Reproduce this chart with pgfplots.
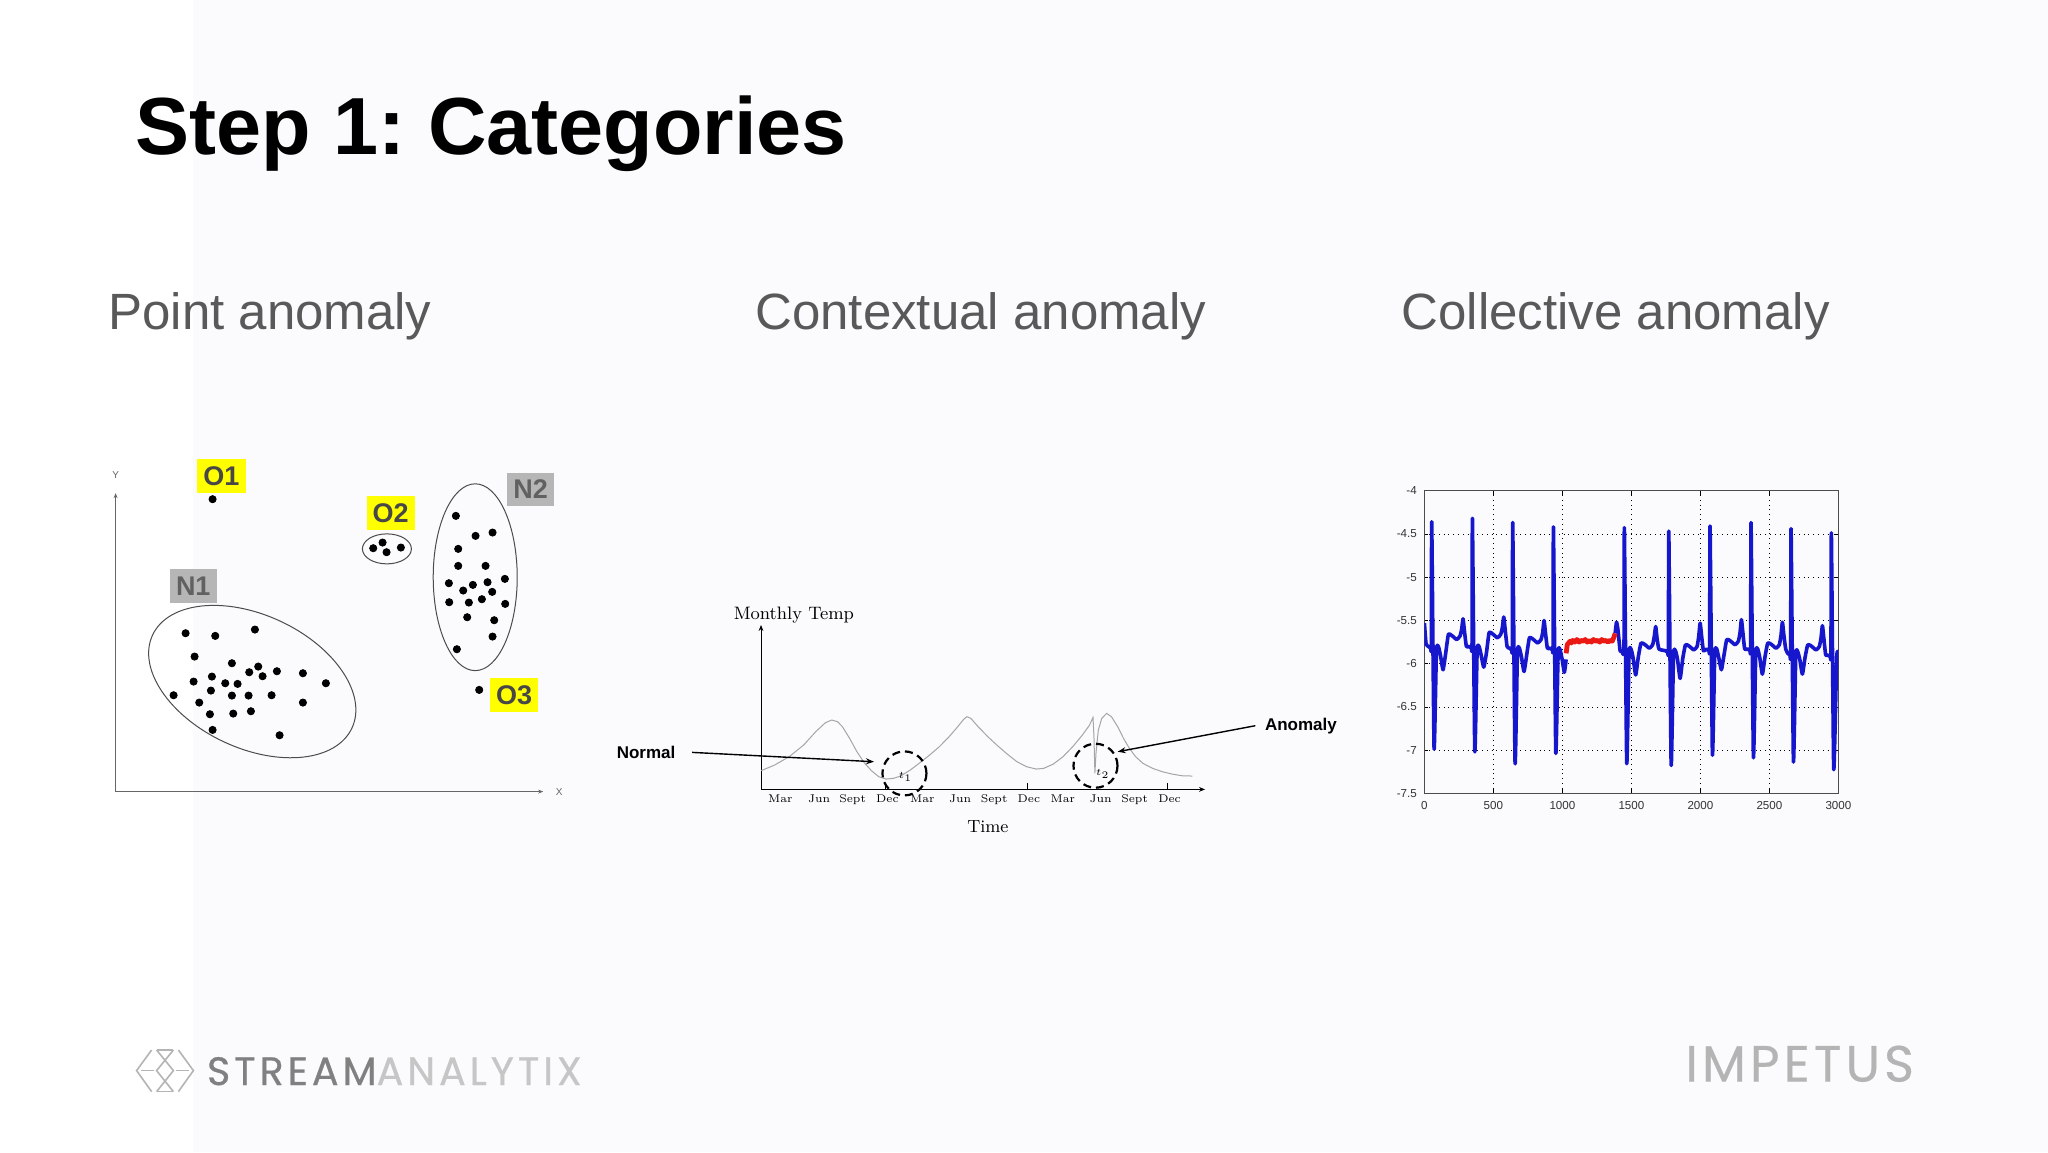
\documentclass[border=0pt]{standalone}
\usepackage{fontspec}
\usepackage{pgfplots}
\pgfplotsset{compat=1.18}
\usetikzlibrary{arrows.meta}
\newfontfamily\arial{Liberation Sans}
\newfontfamily\poppA{Poppins}[LetterSpace=10, FakeBold=0.6]
\newfontfamily\poppB{Poppins}[LetterSpace=8, FakeBold=0.4]
\definecolor{bg}{RGB}{251,250,252}
\definecolor{subgray}{RGB}{89,89,89}
\definecolor{ylw}{RGB}{255,255,0}
\definecolor{lblgray}{RGB}{182,182,182}
\definecolor{ecgblue}{RGB}{22,22,205}
\definecolor{ecgred}{RGB}{235,25,20}
\definecolor{curvegray}{RGB}{165,165,165}
\definecolor{logoA}{RGB}{128,128,128}
\definecolor{logoB}{RGB}{198,198,198}
\definecolor{logoC}{RGB}{180,180,180}
\begin{document}
\frenchspacing
\begin{tikzpicture}[x=1pt,y=1pt]
\fill[bg] (0,0) rectangle (1024,576);
\fill[white] (0,0) rectangle (96.5,576);
% title and subtitles
\node[anchor=base west,inner sep=0] at (67.7,498.5) {\arial\bfseries\fontsize{40.5}{48}\selectfont Step 1: Categories};
\node[anchor=base west,inner sep=0,text=subgray] at (54,411.35) {\arial\fontsize{25.5}{30}\selectfont Point anomaly};
\node[anchor=base west,inner sep=0,text=subgray] at (377.5,411.35) {\arial\fontsize{25.5}{30}\selectfont Contextual anomaly};
\node[anchor=base west,inner sep=0,text=subgray] at (700.6,411.35) {\arial\fontsize{25.5}{30}\selectfont Collective anomaly};

% ---------------- Panel 1: point anomaly ----------------
\begin{axis}[at={(57.8pt,180.2pt)}, anchor=south west, scale only axis,
  width=213.8pt, height=149.2pt, xmin=0, xmax=128.3, ymin=0, ymax=89.5,
  axis lines=left, xtick=\empty, ytick=\empty, clip=false,
  axis line style={draw=black!60, line width=0.5pt, -{Stealth[length=2.5pt,width=2pt]}}]
\addplot[only marks, mark=*, mark size=1.8pt, black] coordinates {
(29.1,87.7)
(77.3,73.0)(80.1,74.7)(81.3,71.8)(85.6,73.2)
(102.1,82.7)(108.0,76.7)(113.1,77.7)(102.8,72.8)(102.8,67.7)(111.0,67.7)
(100.0,62.5)(107.2,62.0)(111.6,62.8)(116.8,63.8)(104.3,60.3)(113.0,59.9)
(100.1,56.8)(106.0,56.7)(109.9,57.7)(116.9,56.3)(105.5,52.3)(113.6,51.4)
(113.1,46.5)(102.4,42.7)
(109.1,30.5)
(21.0,47.5)(29.9,46.7)(41.8,48.6)(23.7,40.5)(34.9,38.5)(42.8,37.5)
(40.1,35.8)(44.1,34.6)(48.4,36.1)(56.2,35.5)(23.4,33.0)(28.9,34.5)
(32.9,32.5)(36.6,32.3)(63.1,32.5)(28.6,30.3)(17.4,28.9)(34.9,28.8)
(39.9,28.8)(46.8,28.9)(25.1,26.7)(56.2,26.7)(28.3,23.2)(35.3,23.4)
(40.6,24.1)(29.1,18.5)(49.2,16.9)
};
\draw[black!70, line width=0.5pt] (axis cs:41,33) ellipse [x radius=55pt, y radius=33.3pt, rotate=-25];
\draw[black!70, line width=0.5pt] (axis cs:107.9,64.3) ellipse [x radius=21pt, y radius=46.7pt];
\draw[black!70, line width=0.5pt] (axis cs:81.4,72.8) ellipse [x radius=12.25pt, y radius=7.5pt];
\tikzset{lbl/.style={minimum width=24.2pt, minimum height=16.7pt, inner sep=0pt,
  font=\arial\bfseries\fontsize{13.5}{14}\selectfont}}
\node[lbl, fill=ylw, text=black!72] at (axis cs:31.75,94.7) {O1};
\node[lbl, fill=ylw, text=black!72] at (axis cs:82.55,83.6) {O2};
\node[lbl, fill=ylw, text=black!72] at (axis cs:119.55,29.0) {O3};
\node[lbl, fill=lblgray, text=black!62, minimum width=23.3pt] at (axis cs:23.3,61.7) {N1};
\node[lbl, fill=lblgray, text=black!62, minimum width=23.3pt] at (axis cs:124.5,90.6) {N2};
\node[font=\arial\fontsize{5}{6}\selectfont, text=black!60] at (axis cs:0,95) {Y};
\node[font=\arial\fontsize{5}{6}\selectfont, text=black!60] at (axis cs:133.1,0) {X};
\end{axis}

% ---------------- Panel 2: contextual anomaly ----------------
\begin{axis}[at={(380.5pt,181.3pt)}, anchor=south west, scale only axis,
  width=222pt, height=82.2pt, xmin=1.5, xmax=39.08, ymin=0, ymax=49.3,
  axis lines=left, clip=false, ytick=\empty,
  xtick={3.14,6.42,9.25,12.2,15.16,18.36,21.23,24.18,27.05,30.25,33.12,36.08},
  xticklabels={Mar,Jun,Sept,Dec,Mar,Jun,Sept,Dec,Mar,Jun,Sept,Dec},
  major tick length=0pt,
  xticklabel style={font=\fontsize{5.6}{6}\selectfont, anchor=north, inner sep=0pt, yshift=-2.3pt},
  axis line style={black, line width=0.5pt, -{Stealth[length=3pt,width=2.4pt]}}]
\addplot[curvegray, line width=0.5pt] coordinates {
(1.50,5.6)(2.65,7.3)(3.88,9.8)(5.11,13.3)(6.13,17.3)(6.95,20.0)(7.49,20.8)
(7.98,20.3)(8.39,18.8)(9.0,15.3)(9.62,11.3)(10.24,8.0)(10.85,5.6)(11.47,3.8)
(12.08,3.1)(12.70,3.3)(13.31,4.0)(14.13,5.8)(14.95,8.0)(15.77,10.3)(16.59,12.8)
(17.42,15.8)(18.03,18.3)(18.65,21.0)(18.93,21.8)(19.26,21.3)(19.88,18.8)
(20.70,15.8)(21.52,13.1)(22.34,10.6)(23.16,8.3)(23.98,6.8)(24.80,6.1)
(25.42,6.3)(26.24,7.6)(27.06,9.8)(27.88,12.8)(28.70,16.3)(29.31,19.3)
(29.60,21.6)(29.68,15.8)(29.76,4.8)(29.85,10.8)(30.05,17.8)(30.34,21.3)
(30.75,22.8)(31.16,21.8)(31.69,18.8)(32.18,15.3)(32.68,12.3)(33.21,9.8)
(33.83,7.8)(34.65,6.3)(35.47,5.3)(36.29,4.6)(37.11,4.1)(38.01,4.0)
};
\draw[black, line width=0.4pt] (axis cs:12,0) -- ([yshift=3pt]axis cs:12,0);
\draw[black, line width=0.4pt] (axis cs:24.02,0) -- ([yshift=3pt]axis cs:24.02,0);
\draw[black, line width=0.4pt] (axis cs:35.92,0) -- ([yshift=3pt]axis cs:35.92,0);
\draw[black, line width=1.1pt, dash pattern=on 4pt off 2.5pt] (axis cs:13.64,4.8) circle [radius=11pt];
\draw[black, line width=1.1pt, dash pattern=on 4pt off 2.5pt] (axis cs:29.81,7.1) circle [radius=11pt];
\node[font=\fontsize{4.5}{5}\selectfont] at (axis cs:13.72,3.6) {$t_1$};
\node[font=\fontsize{4.5}{5}\selectfont] at (axis cs:30.42,4.6) {$t_2$};
\node[anchor=base west, inner sep=0, font=\fontsize{9}{10}\selectfont] at (axis cs:-0.84,51) {Monthly Temp};
\node[anchor=base, inner sep=0, font=\fontsize{8.8}{10}\selectfont] at (axis cs:20.7,-12.8) {Time};
\draw[-{Stealth[length=4pt,width=3pt]}, line width=0.7pt] (axis cs:-4.33,11.1) -- (axis cs:11.06,8.3);
\draw[-{Stealth[length=4pt,width=3pt]}, line width=0.7pt] (axis cs:43.34,19.1) -- (axis cs:31.69,11.3);
\node[font=\arial\bfseries\fontsize{8.5}{9}\selectfont, inner sep=0] at (axis cs:-8.23,11.1) {Normal};
\node[font=\arial\bfseries\fontsize{8.5}{9}\selectfont, inner sep=0] at (axis cs:47.2,19.1) {Anomaly};
\end{axis}

% ---------------- Panel 3: collective anomaly ----------------
\begin{axis}[at={(712.2pt,179.3pt)}, anchor=south west, scale only axis,
  width=207pt, height=151.3pt, xmin=0, xmax=3000, ymin=-7.5, ymax=-4,
  xtick={0,500,1000,1500,2000,2500,3000},
  xticklabels={0,500,1000,1500,2000,2500,3000},
  ytick={-7.5,-7,-6.5,-6,-5.5,-5,-4.5,-4},
  yticklabels={-7.5,-7,-6.5,-6,-5.5,-5,-4.5,-4},
  grid=major, grid style={black, dotted, line width=0.4pt},
  axis line style={black!70, line width=0.5pt},
  tick style={black, line width=0.4pt}, major tick length=2pt,
  tick label style={font=\arial\fontsize{5.8}{6}\selectfont, text=black!80},
  xticklabel style={yshift=-0.5pt}, yticklabel style={xshift=-0.3pt}]
\addplot[ecgblue, line width=1.8pt, line join=round, smooth, tension=0.3] coordinates {
(0,-5.53)(12,-5.77)(29,-5.8)(45,-5.82)(50,-5.8)(53,-4.36)(70,-6.98)(87,-5.85)(101,-5.8)(116,-5.9)(135,-6.07)(154,-5.88)(174,-5.66)(203,-5.68)(234,-5.72)(258,-5.68)(270,-5.6)(280,-5.48)(290,-5.62)(304,-5.8)
(324,-5.8)(340,-5.82)(345,-5.8)(348,-4.32)(365,-7.01)(382,-5.85)(396,-5.8)(411,-5.9)(430,-6.04)(449,-5.88)(469,-5.64)(498,-5.66)(529,-5.7)(553,-5.66)(565,-5.58)(575,-5.46)(585,-5.6)(599,-5.8)
(616,-5.82)(632,-5.84)(637,-5.82)(640,-4.37)(657,-7.15)(674,-5.87)(688,-5.82)(703,-5.92)(722,-6.09)(741,-5.9)(761,-5.7)(790,-5.72)(821,-5.76)(845,-5.72)(857,-5.64)(867,-5.5)(877,-5.64)(891,-5.82)
(911,-5.82)(927,-5.84)(932,-5.82)(935,-4.42)(952,-7.03)(969,-5.87)(983,-5.84)(998,-5.95)(1014,-6.1)(1027,-5.95)
};
\addplot[ecgblue, line width=1.8pt, line join=round, smooth, tension=0.3] coordinates {
(1382,-5.65)(1392,-5.52)(1402,-5.6)(1418,-5.85)(1430,-5.85)(1446,-5.84)
(1449,-4.43)(1466,-7.15)(1483,-5.88)(1497,-5.83)(1512,-5.93)(1531,-6.13)(1550,-5.92)(1570,-5.76)(1599,-5.78)(1630,-5.82)(1654,-5.78)(1666,-5.68)(1676,-5.57)(1686,-5.71)(1700,-5.83)
(1747,-5.85)(1763,-5.87)(1768,-5.85)(1771,-4.47)(1788,-7.17)(1805,-5.9)(1819,-5.85)(1834,-5.95)(1853,-6.17)(1872,-5.94)(1892,-5.78)(1921,-5.8)(1952,-5.84)(1976,-5.8)(1988,-5.68)(1998,-5.53)(2008,-5.67)(2022,-5.85)
(2046,-5.83)(2062,-5.85)(2067,-5.83)(2070,-4.41)(2087,-7.05)(2104,-5.88)(2118,-5.83)(2133,-5.93)(2152,-6.07)(2171,-5.9)(2191,-5.72)(2220,-5.74)(2251,-5.78)(2275,-5.74)(2287,-5.64)(2297,-5.49)(2307,-5.63)(2321,-5.83)
(2343,-5.83)(2359,-5.85)(2364,-5.83)(2367,-4.37)(2384,-7.08)(2401,-5.88)(2415,-5.83)(2430,-5.93)(2449,-6.12)(2468,-5.92)(2488,-5.76)(2517,-5.78)(2548,-5.82)(2572,-5.78)(2584,-5.67)(2594,-5.52)(2604,-5.66)(2618,-5.83)
(2633,-5.88)(2649,-5.9)(2654,-5.9)(2657,-4.44)(2674,-7.13)(2691,-5.9)(2705,-5.86)(2720,-5.95)(2739,-6.12)(2758,-5.93)(2778,-5.78)(2807,-5.8)(2838,-5.84)(2862,-5.8)(2874,-5.7)(2884,-5.56)(2894,-5.7)(2908,-5.9)
(2925,-5.9)(2941,-5.92)(2946,-5.9)(2949,-4.49)(2966,-7.22)(2988,-5.92)(3000,-5.88)
};
\addplot[ecgred, line width=2.4pt, line join=round] coordinates {
(1027,-5.88)(1035,-5.78)(1045,-5.76)(1055,-5.74)(1065,-5.76)(1075,-5.73)(1090,-5.75)(1105,-5.72)(1120,-5.75)(1135,-5.73)(1150,-5.74)(1165,-5.72)(1180,-5.75)(1195,-5.73)(1210,-5.75)(1225,-5.72)(1240,-5.74)(1255,-5.73)(1270,-5.75)(1285,-5.72)(1300,-5.74)(1315,-5.73)(1330,-5.75)(1345,-5.73)(1360,-5.74)(1372,-5.7)(1382,-5.65)
};
\end{axis}

% ---------------- logos ----------------
\begin{scope}[draw=logoC, line width=0.8pt]
\draw (75.8,51) -- (68.3,40.7) -- (75.8,30.2);
\draw (89.2,51) -- (96.7,40.7) -- (89.2,30.2);
\draw (78.3,51) -- (86.7,51);
\draw (78.3,30.2) -- (86.7,30.2);
\draw (78.3,51) -- (86.7,40.7) -- (78.3,30.2);
\draw (86.7,51) -- (78.3,40.7) -- (86.7,30.2);
\draw (70.5,40.7) -- (77,40.7);
\draw (88,40.7) -- (94.5,40.7);
\end{scope}
\node[anchor=base west, inner sep=0] at (103.3,33.5) {\poppA\fontsize{19.8}{20}\selectfont\textcolor{logoA}{STREAM}\textcolor{logoB}{ANALYTIX}};
\node[anchor=base west, inner sep=0, text=logoC] at (842.5,35.2) {\poppB\fontsize{25.5}{26}\selectfont IMPETUS};
\end{tikzpicture}
\end{document}
